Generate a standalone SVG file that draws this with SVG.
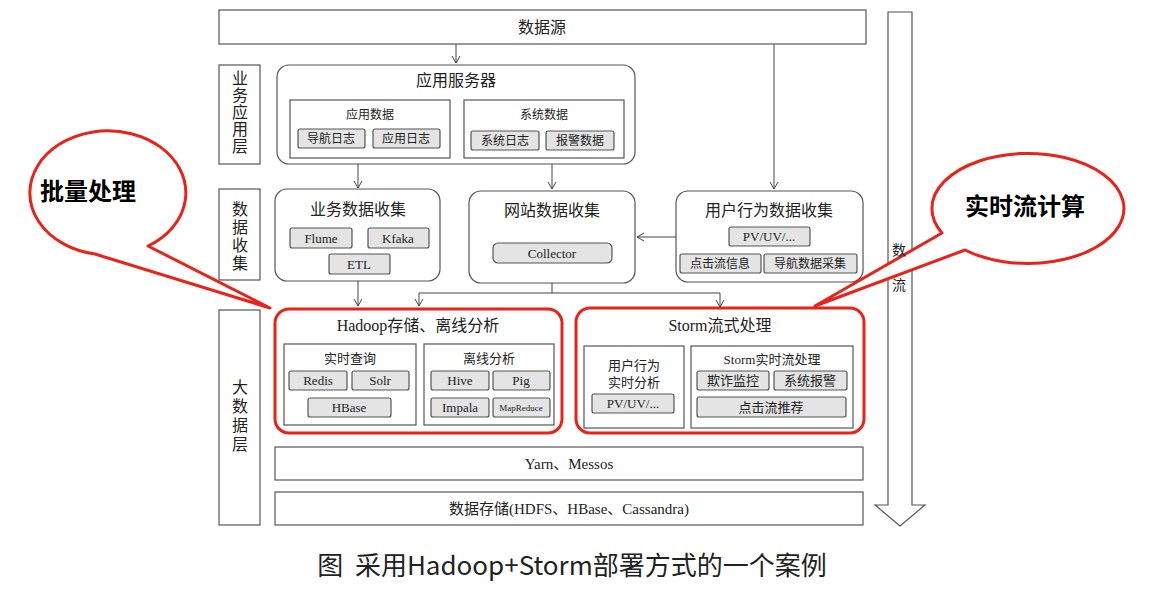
<svg xmlns="http://www.w3.org/2000/svg" width="1161" height="595" viewBox="0 0 1161 595">
<style>
.b{fill:#fff;stroke:#555;stroke-width:1.2}
.btn{fill:#e4e4e4;stroke:#555;stroke-width:1.2}
.red{fill:#fff;stroke:#e8231a;stroke-width:3}
.t{font-family:"Liberation Serif","Noto Sans CJK SC",serif;fill:#222;text-anchor:middle}
.c{stroke:#444;stroke-width:1;fill:none}
</style>
<defs><marker id="a" markerWidth="10" markerHeight="10" refX="8" refY="5" orient="auto" markerUnits="userSpaceOnUse"><path d="M1,1 L8,5 L1,9" fill="none" stroke="#444"/></marker></defs>
<rect width="1161" height="595" fill="#fff"/>
<g id="src"><rect class="b" x="219" y="10" width="647" height="34"/><text class="t" x="542" y="33" font-size="16">数据源</text></g>
<g id="l1"><rect class="b" x="219" y="65" width="41" height="99"/><text class="t" x="240" y="84" font-size="16"><tspan x="240">业</tspan><tspan x="240" dy="17">务</tspan><tspan x="240" dy="17">应</tspan><tspan x="240" dy="17">用</tspan><tspan x="240" dy="17">层</tspan></text></g>
<g id="l2"><rect class="b" x="219" y="189" width="41" height="91"/><text class="t" x="240" y="215" font-size="16"><tspan x="240">数</tspan><tspan x="240" dy="18">据</tspan><tspan x="240" dy="18">收</tspan><tspan x="240" dy="18">集</tspan></text></g>
<g id="l3"><rect class="b" x="219" y="310" width="41" height="215"/><text class="t" x="240" y="393" font-size="16"><tspan x="240">大</tspan><tspan x="240" dy="19">数</tspan><tspan x="240" dy="19">据</tspan><tspan x="240" dy="19">层</tspan></text></g>
<g id="app"><rect class="b" x="277" y="65" width="358" height="99" rx="12"/><text class="t" x="456" y="86" font-size="16">应用服务器</text>
<rect class="b" x="290" y="100" width="160" height="58"/><text class="t" x="370" y="119" font-size="12">应用数据</text>
<rect class="b" x="464" y="100" width="160" height="58"/><text class="t" x="544" y="119" font-size="12">系统数据</text>
<rect class="btn" x="298" y="129" width="67" height="19" rx="2"/><text class="t" x="331" y="143" font-size="12">导航日志</text>
<rect class="btn" x="373" y="129" width="67" height="19" rx="2"/><text class="t" x="406" y="143" font-size="12">应用日志</text>
<rect class="btn" x="471" y="131" width="68" height="19" rx="2"/><text class="t" x="505" y="145" font-size="12">系统日志</text>
<rect class="btn" x="546" y="131" width="68" height="19" rx="2"/><text class="t" x="580" y="145" font-size="12">报警数据</text></g>
<g id="biz"><rect class="b" x="275" y="189" width="165" height="92" rx="12"/><text class="t" x="358" y="215" font-size="16">业务数据收集</text>
<rect class="btn" x="290" y="228" width="62" height="20" rx="2"/><text class="t" x="321" y="243" font-size="13">Flume</text>
<rect class="btn" x="368" y="228" width="61" height="20" rx="2"/><text class="t" x="398" y="243" font-size="13">Kfaka</text>
<rect class="btn" x="329" y="254" width="61" height="20" rx="2"/><text class="t" x="359" y="269" font-size="13">ETL</text></g>
<g id="web"><rect class="b" x="469" y="191" width="166" height="92" rx="12"/><text class="t" x="552" y="216" font-size="16">网站数据收集</text>
<rect class="btn" x="493" y="243" width="119" height="20" rx="5"/><text class="t" x="552" y="258" font-size="13">Collector</text></g>
<g id="user"><rect class="b" x="676" y="191" width="187" height="91" rx="12"/><text class="t" x="769" y="216" font-size="16">用户行为数据收集</text>
<rect class="btn" x="729" y="227" width="81" height="19" rx="2"/><text class="t" x="769" y="241" font-size="13">PV/UV/...</text>
<rect class="btn" x="680" y="254" width="81" height="19" rx="2"/><text class="t" x="720" y="268" font-size="12">点击流信息</text>
<rect class="btn" x="764" y="254" width="93" height="19" rx="2"/><text class="t" x="810" y="268" font-size="12">导航数据采集</text></g>
<g id="conn">
<path class="c" d="M456,44 V63" marker-end="url(#a)"/>
<path class="c" d="M774,44 V189" marker-end="url(#a)"/>
<path class="c" d="M358,164 V188" marker-end="url(#a)"/>
<path class="c" d="M552,164 V189" marker-end="url(#a)"/>
<path class="c" d="M676,237 H637" marker-end="url(#a)"/>
<path class="c" d="M358,281 V306" marker-end="url(#a)"/>
<path class="c" d="M552,283 V293 M419,293 H720"/>
<path class="c" d="M419,293 V306" marker-end="url(#a)"/>
<path class="c" d="M720,293 V307" marker-end="url(#a)"/>
</g>
<g id="hadoop"><rect class="red" x="275" y="309" width="287" height="124" rx="14"/><text class="t" x="418" y="331" font-size="16">Hadoop存储、离线分析</text>
<rect class="b" x="284" y="344" width="132" height="81"/><text class="t" x="350" y="363" font-size="13">实时查询</text>
<rect class="b" x="424" y="344" width="130" height="81"/><text class="t" x="489" y="363" font-size="13">离线分析</text>
<rect class="btn" x="289" y="371" width="58" height="19" rx="2"/><text class="t" x="318" y="385" font-size="13">Redis</text>
<rect class="btn" x="352" y="371" width="57" height="19" rx="2"/><text class="t" x="380" y="385" font-size="13">Solr</text>
<rect class="btn" x="308" y="398" width="83" height="19" rx="2"/><text class="t" x="349" y="412" font-size="13">HBase</text>
<rect class="btn" x="431" y="371" width="58" height="19" rx="2"/><text class="t" x="460" y="385" font-size="13">Hive</text>
<rect class="btn" x="493" y="371" width="57" height="19" rx="2"/><text class="t" x="521" y="385" font-size="13">Pig</text>
<rect class="btn" x="431" y="398" width="58" height="19" rx="2"/><text class="t" x="460" y="412" font-size="13">Impala</text>
<rect class="btn" x="493" y="398" width="57" height="19" rx="2"/><text class="t" x="521" y="411" font-size="9">MapReduce</text></g>
<g id="storm"><rect class="red" x="576" y="308" width="288" height="125" rx="14"/><text class="t" x="720" y="331" font-size="16">Storm流式处理</text>
<rect class="b" x="584" y="346" width="100" height="82"/><text class="t" x="634" y="370" font-size="13"><tspan x="634">用户行为</tspan><tspan x="634" dy="17">实时分析</tspan></text>
<rect class="b" x="691" y="346" width="162" height="82"/><text class="t" x="772" y="364" font-size="13">Storm实时流处理</text>
<rect class="btn" x="592" y="394" width="82" height="19" rx="2"/><text class="t" x="633" y="408" font-size="13">PV/UV/...</text>
<rect class="btn" x="697" y="371" width="72" height="19" rx="2"/><text class="t" x="733" y="385" font-size="13">欺诈监控</text>
<rect class="btn" x="774" y="371" width="73" height="19" rx="2"/><text class="t" x="810" y="385" font-size="13">系统报警</text>
<rect class="btn" x="697" y="397" width="149" height="20" rx="2"/><text class="t" x="771" y="412" font-size="13">点击流推荐</text></g>
<g id="yarn"><rect class="b" x="275" y="447" width="588" height="33"/><text class="t" x="569" y="469" font-size="15">Yarn、Messos</text></g>
<g id="store"><rect class="b" x="275" y="492" width="588" height="33"/><text class="t" x="569" y="514" font-size="15">数据存储(HDFS、HBase、Cassandra)</text></g>
<g id="flow"><path d="M888,12 H912 V505 H925 L900,526 L875,505 H888 Z" fill="#fff" stroke="#555" stroke-width="1.2"/></g>
<g id="callL"><path d="M95,254 A78,62 0 1 1 148,246 L270,308 Z" fill="#fff" stroke="#e8231a" stroke-width="3" stroke-linejoin="round"/><text x="88" y="200" font-family="Noto Sans CJK SC,sans-serif" font-size="24" font-weight="bold" text-anchor="middle">批量处理</text></g>
<g id="callR"><path d="M942,233 A96,55 0 1 1 965,250 L815,306 Z" fill="#fff" stroke="#e8231a" stroke-width="3" stroke-linejoin="round"/><text x="1025" y="215" font-family="Noto Sans CJK SC,sans-serif" font-size="24" font-weight="bold" text-anchor="middle">实时流计算</text></g>
<text class="t" x="899" y="255" font-size="14">数</text><text class="t" x="899" y="290" font-size="14">流</text>
<text x="572" y="575" font-family="Noto Sans CJK SC,sans-serif" font-size="26" text-anchor="middle" fill="#222" xml:space="preserve">图  采用Hadoop+Storm部署方式的一个案例</text>
</svg>
